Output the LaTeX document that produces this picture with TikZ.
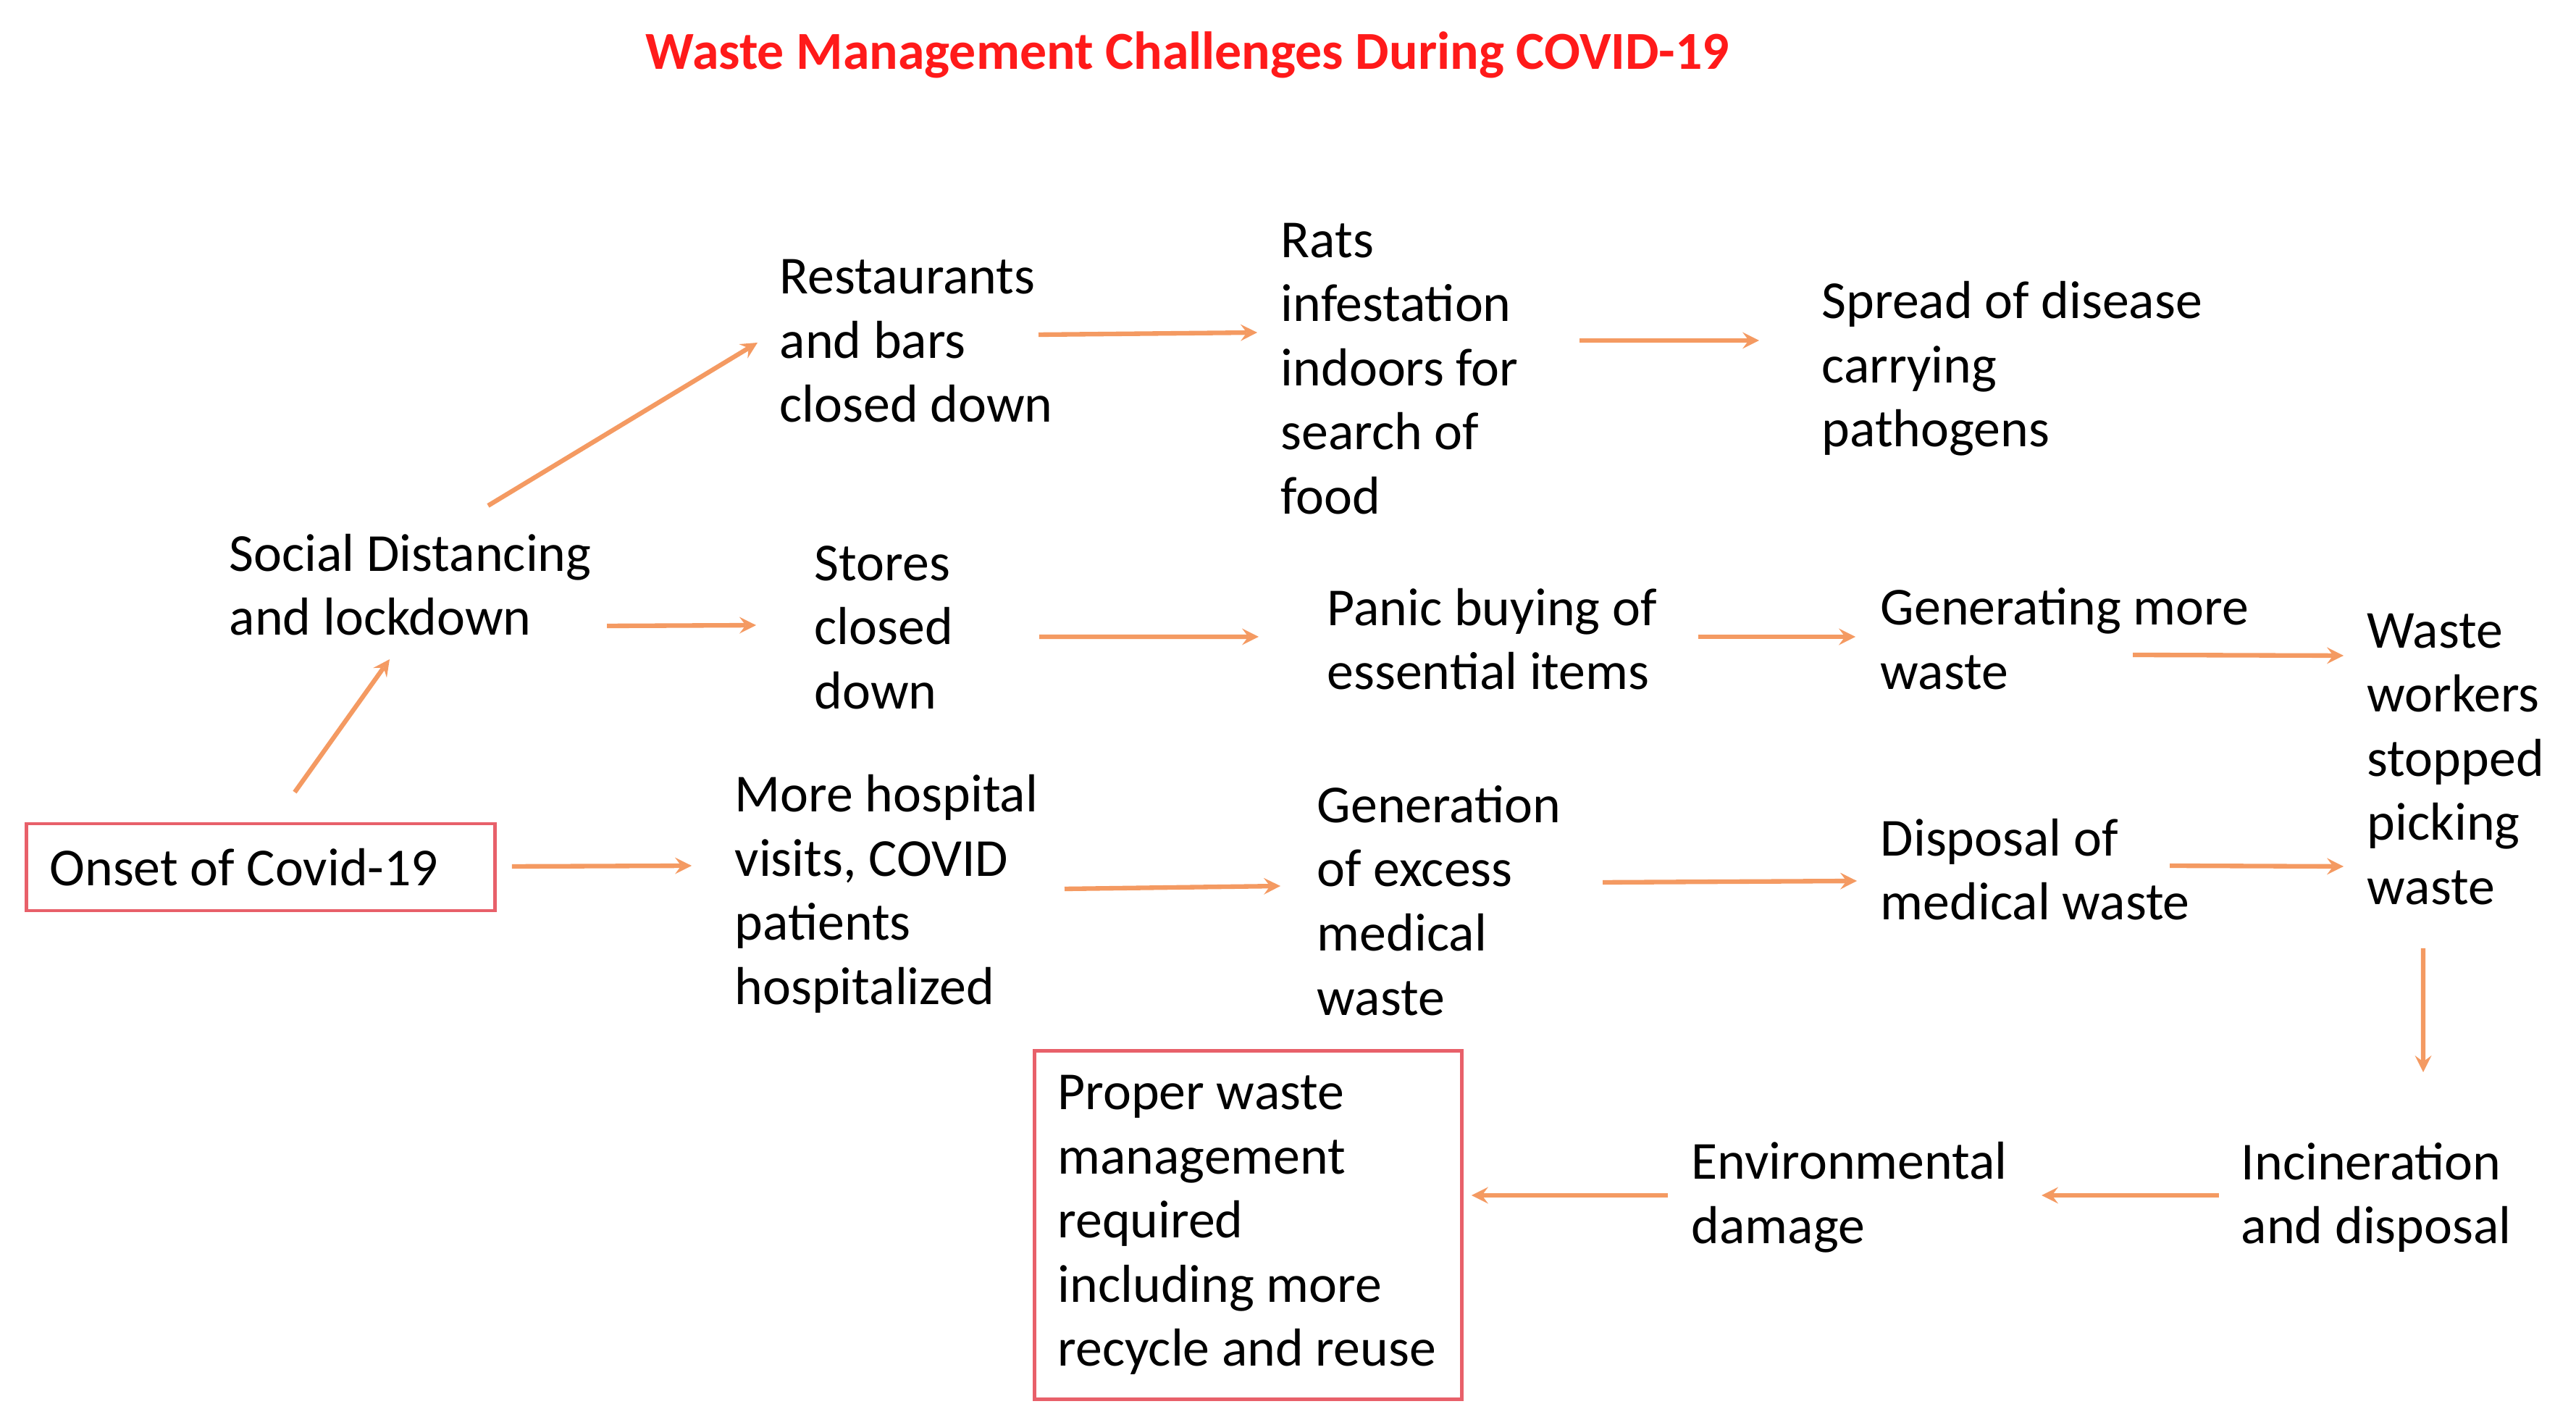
\documentclass[tikz,border=0pt]{standalone}
\usepackage{fontspec}
\setmainfont{Carlito}
\usepgflibrary{arrows}
\usetikzlibrary{calc}
\definecolor{arrorange}{HTML}{F49A62}
\definecolor{boxred}{HTML}{E8606A}
\definecolor{titlered}{HTML}{FF1A1A}

\begin{document}
\begin{tikzpicture}[>=stealth,
step node/.style={inner sep=0, anchor=west, align=left, font=\fontsize{21}{25.2}\selectfont},
redbox/.style={draw=boxred, line width=1.4pt, inner xsep=0.32cm, inner ysep=0, align=flush left, font=\fontsize{21}{25.2}\selectfont},
flow/.style={->, draw=arrorange, line width=1.8pt},
titel/.style={text=titlered, font=\fontsize{21}{25}\selectfont\bfseries}]
\useasboundingbox (0,0) rectangle (35.57,19.66);
\node[titel] (title) at (16.40,18.90) {Waste Management Challenges During COVID-19};
%%%%%%%%%% top row %%%%%%%%%%%
\node[step node] (rest) at (10.76,14.95) {Restaurants\\and bars\\closed down};
\node[step node] (rats) at (17.68,14.57) {Rats\\infestation\\indoors for\\search of\\food};
\node[step node] (spread) at (25.15,14.57) {Spread of disease\\carrying\\pathogens};
%%%%%%%%%% middle row %%%%%%%%%%%
\node[step node] (social) at (3.16,11.59) {Social Distancing\\and lockdown};
\node[step node] (stores) at (11.24,11.00) {Stores\\closed\\down};
\node[step node] (panic) at (18.32,10.84) {Panic buying of\\essential items};
\node[step node] (gen) at (25.96,10.84) {Generating more\\waste};
\node[step node] (workers) at (32.68,9.18) {Waste\\workers\\stopped\\picking\\waste};
%%%%%%%%%% bottom rows %%%%%%%%%%%
\node[redbox, anchor=west, text width=5.83cm, minimum height=1.20cm] (onset) at (0.34,7.69) {Onset of Covid-19};
\node[step node] (hosp) at (10.14,7.32) {More hospital\\visits, COVID\\patients\\hospitalized};
\node[step node] (excess) at (18.18,7.23) {Generation\\of excess\\medical\\waste};
\node[step node] (disp) at (25.96,7.66) {Disposal of\\medical waste};
\node[redbox, anchor=west, text width=5.26cm, minimum height=4.81cm] (proper) at (14.26,2.75) {Proper waste\\management\\required\\including more\\recycle and reuse};
\node[step node] (env) at (23.35,3.13) {Environmental\\damage};
\node[step node] (incin) at (30.94,3.13) {Incineration\\and disposal};
%%%%%%%%%% arrows %%%%%%%%%%%
\draw[flow] ([shift={(0.47,0.41)}]onset.north) -- ([shift={(2.22,-1.03)}]social.west);
\draw[flow] ([shift={(3.58,1.09)}]social.west) -- ([shift={(-0.30,-0.02)}]rest.west);
\draw[flow] ([shift={(5.22,-0.57)}]social.west) -- ([shift={(-0.80,0.03)}]stores.west);
\draw[flow] ([shift={(3.58,0.09)}]rest.west) -- ([shift={(-0.32,0.50)}]rats.west);
\draw[flow] ([shift={(4.13,0.39)}]rats.west) -- ([shift={(-0.86,0.39)}]spread.west);
\draw[flow] ([shift={(3.11,-0.13)}]stores.west) -- ([shift={(-0.94,0.03)}]panic.west);
\draw[flow] ([shift={(5.13,0.03)}]panic.west) -- ([shift={(-0.34,0.03)}]gen.west);
\draw[flow] ([shift={(3.49,-0.22)}]gen.west) -- ([shift={(-0.32,1.43)}]workers.west);
\draw[flow] ([shift={(0.21,0.01)}]onset.east) -- ([shift={(-0.59,0.39)}]hosp.west);
\draw[flow] ([shift={(4.56,0.07)}]hosp.west) -- ([shift={(-0.50,0.20)}]excess.west);
\draw[flow] ([shift={(3.95,0.25)}]excess.west) -- ([shift={(-0.32,-0.16)}]disp.west);
\draw[flow] ([shift={(4.00,0.05)}]disp.west) -- ([shift={(-0.32,-1.48)}]workers.west);
\draw[flow] ([shift={(0.78,-2.61)}]workers.west) -- ([shift={(2.52,1.73)}]incin.west);
\draw[flow] ([shift={(-0.30,0.03)}]incin.west) -- ([shift={(4.84,0.03)}]env.west);
\draw[flow] ([shift={(-0.32,0.03)}]env.west) -- ([shift={(0.11,0.41)}]proper.east);
\end{tikzpicture}
\end{document}
